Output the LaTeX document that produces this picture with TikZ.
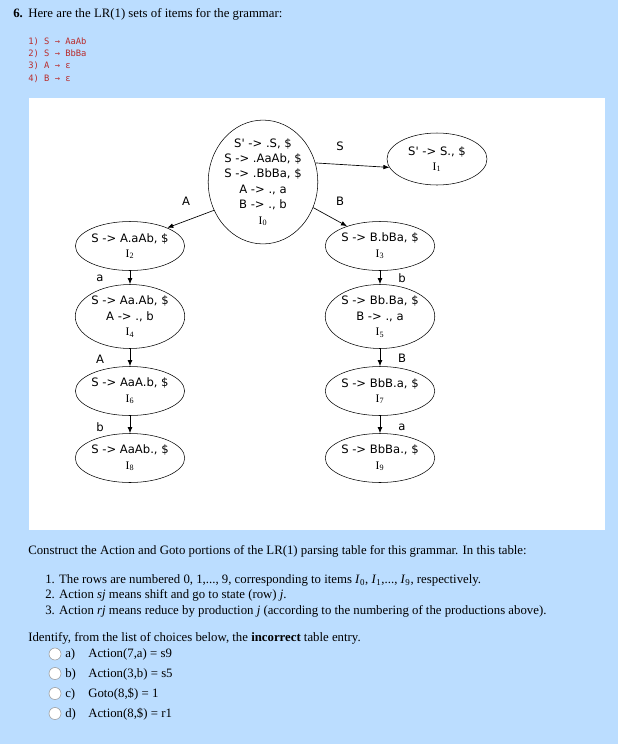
\documentclass[tikz,border=0pt]{standalone}
\usepackage{fontspec}
\setmainfont{Liberation Serif}
\newfontfamily\diagfont{DejaVu Sans}
\newfontfamily\gramfont{DejaVu Sans Mono}
\usetikzlibrary{shapes.geometric,arrows.meta}
\definecolor{pageblue}{RGB}{187,221,255}
\definecolor{gramred}{RGB}{185,45,45}
\definecolor{radiogray}{RGB}{150,150,150}
\newcommand{\setno}[1]{{\rmfamily I\textsubscript{#1}}}
\newcommand{\itemno}[1]{\textit{I}\textsubscript{#1}}
\tikzset{
  lrset/.style={draw, ellipse, inner sep=0pt, minimum width=79.5pt, minimum height=36.75pt,
    align=center, font=\diagfont\fontsize{8.7}{11.6}\selectfont},
  lrsetbig/.style={lrset, minimum height=48pt},
  goto/.style={-{Latex[length=4.5pt,width=3.5pt]}, line width=0.5pt},
  sym/.style={font=\diagfont\fontsize{8.7}{10}\selectfont, inner sep=0pt},
  txt/.style={anchor=base west, inner sep=0pt, font=\fontsize{9.6}{12}\selectfont},
  gram/.style={anchor=base west, inner sep=0pt, text=gramred, font=\gramfont\fontsize{6.6}{8}\selectfont},
  radio/.style={draw=radiogray, fill=white, circle, minimum size=9pt, inner sep=0pt}
}

\begin{document}
\begin{tikzpicture}[x=0.75pt,y=0.75pt,yscale=-1,xscale=1]
\fill[pageblue] (0,0) rectangle (618,744);
\useasboundingbox (0,0) rectangle (618,744);

%Shape: Rectangle
\fill[white] (29,98) rectangle (605,530);

% Text Node
\node[txt] (qno) at (13,17) {\textbf{6.}};
% Text Node
\node[txt] (intro) at (28,17) {Here are the LR(1) sets of items for the grammar:};

% Text Node
\node[gram] (p1) at (28,44) {1) S → AaAb};
% Text Node
\node[gram] (p2) at (28,56) {2) S → BbBa};
% Text Node
\node[gram] (p3) at (28,68.5) {3) A → ε};
% Text Node
\node[gram] (p4) at (28,81) {4) B → ε};

%Shape: Ellipse
\node[lrset, minimum width=78pt, minimum height=82.5pt] (i0) at (263,182)
  {S\textquotesingle{} -> .S, \$\\S -> .AaAb, \$\\S -> .BbBa, \$\\A -> ., a\\B -> ., b\\\setno{0}};
%Shape: Ellipse
\node[lrset, minimum width=75pt, minimum height=39pt] (i1) at (437,159) {S\textquotesingle{} -> S., \$\\\setno{1}};
%Shape: Ellipse
\node[lrset] (i2) at (130,246) {S -> A.aAb, \$\\\setno{2}};
%Shape: Ellipse
\node[lrset] (i3) at (380,246) {S -> B.bBa, \$\\\setno{3}};
%Shape: Ellipse
\node[lrsetbig] (i4) at (130,316.5) {S -> Aa.Ab, \$\\A -> ., b\\\setno{4}};
%Shape: Ellipse
\node[lrsetbig] (i5) at (380,316.5) {S -> Bb.Ba, \$\\B -> ., a\\\setno{5}};
%Shape: Ellipse
\node[lrset] (i6) at (130,391) {S -> AaA.b, \$\\\setno{6}};
%Shape: Ellipse
\node[lrset] (i7) at (380,391) {S -> BbB.a, \$\\\setno{7}};
%Shape: Ellipse
\node[lrset] (i8) at (130,458) {S -> AaAb., \$\\\setno{8}};
%Shape: Ellipse
\node[lrset] (i9) at (380,458) {S -> BbBa., \$\\\setno{9}};

%Straight Lines
\draw[goto] (i0.20) -- (i1.190);
\draw[goto] (i0.-27) -- (i3.149);
\draw[goto] (i0.210) -- (i2.26);
\draw[goto] (i2) -- (i4);
\draw[goto] (i4) -- (i6);
\draw[goto] (i6) -- (i8);
\draw[goto] (i3) -- (i5);
\draw[goto] (i5) -- (i7);
\draw[goto] (i7) -- (i9);

% Text Node
\node[sym] (onS) at (340,146) {S};
% Text Node
\node[sym] (onB) at (340,201) {B};
% Text Node
\node[sym] (onA) at (186,201) {A};
% Text Node
\node[sym] (on2a) at (100,278) {a};
% Text Node
\node[sym] (on4A) at (100,359) {A};
% Text Node
\node[sym] (on6b) at (100,427) {b};
% Text Node
\node[sym] (on3b) at (402,278) {b};
% Text Node
\node[sym] (on5B) at (402,358) {B};
% Text Node
\node[sym] (on7a) at (402,427) {a};

% Text Node
\node[txt] (task) at (28,554.5) {Construct the Action and Goto portions of the LR(1) parsing table for this grammar. In this table:};
% Text Node
\node[txt] (rule1) at (45,583) {1. The rows are numbered 0, 1,..., 9, corresponding to items \itemno{0}, \itemno{1},..., \itemno{9}, respectively.};
% Text Node
\node[txt] (rule2) at (45,598) {2. Action \textit{sj} means shift and go to state (row) \textit{j}.};
% Text Node
\node[txt] (rule3) at (45,614) {3. Action \textit{rj} means reduce by production \textit{j} (according to the numbering of the productions above).};
% Text Node
\node[txt] (ask) at (28,641) {Identify, from the list of choices below, the \textbf{incorrect} table entry.};

%Shape: Circle
\node[radio] (ra) at (55,654) {};
\node[radio] (rb) at (55,673.5) {};
\node[radio] (rc) at (55,693.5) {};
\node[radio] (rd) at (55,713.5) {};
% Text Node
\node[txt] (ka) at (65,657.5) {a)};
\node[txt] (kb) at (65,677) {b)};
\node[txt] (kc) at (65,697) {c)};
\node[txt] (kd) at (65,717) {d)};
% Text Node
\node[txt] (ca) at (88,657.5) {Action(7,a) = s9};
\node[txt] (cb) at (88,677) {Action(3,b) = s5};
\node[txt] (cc) at (88,697) {Goto(8,\$) = 1};
\node[txt] (cd) at (88,717) {Action(8,\$) = r1};

\end{tikzpicture}
\end{document}
